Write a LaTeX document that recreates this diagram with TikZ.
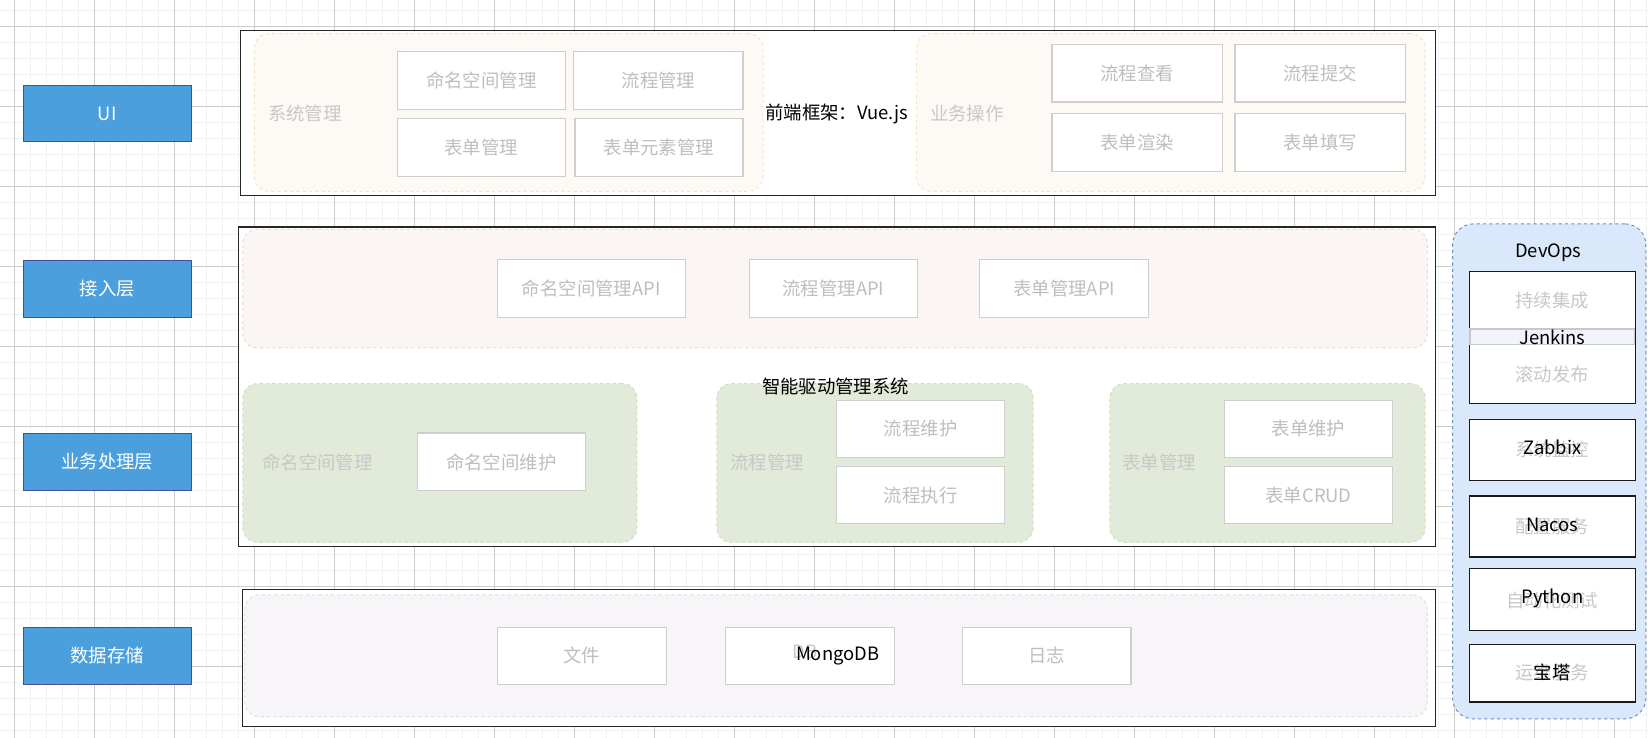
\documentclass[tikz,border=0pt]{standalone}
\usepackage{fontspec}
\setmainfont{Noto Sans CJK SC}
\begin{document}
\newcommand\bx[7]{\node[#2,minimum width={(#5)-(#3)},minimum height={(#6)-(#4)}] (#1) at ({(#3+#5)/2},{(#4+#6)/2}) {#7};}
\begin{tikzpicture}[x=1pt,y=-1pt,
  lay/.style={draw=blue!45!black!70,line width=1pt,fill={rgb,255:red,74;green,159;blue,220},text=white,inner sep=0pt,font=\fontsize{17.5}{20}\selectfont},
  frm/.style={draw=black!85,line width=1.3pt,inner sep=0pt},
  grp/.style={dashed,rounded corners=14pt,line width=0.9pt,inner sep=0pt},
  bx/.style={draw={rgb,255:red,206;green,206;blue,206},line width=1.2pt,fill=white,text={rgb,255:red,190;green,190;blue,190},inner sep=0pt,font=\fontsize{17.5}{20}\selectfont},
  dbx/.style={draw=black!90,line width=1.2pt,fill=white,inner sep=0pt},
  gl/.style={text={rgb,255:red,200;green,200;blue,200},font=\fontsize{17.5}{20}\selectfont,inner sep=0pt},
  bl/.style={text=black,font=\fontsize{17.5}{20}\selectfont,inner sep=0pt}]
\useasboundingbox[fill=white] (0,0) rectangle (1568,702);
\begin{scope}[scale=0.9514]
\foreach \i in {0,...,103} {\draw[black!5,line width=0.6pt] ({\i*16-2},0) -- ({\i*16-2},740);}
\foreach \j in {0,...,46} {\draw[black!5,line width=0.6pt] (0,{\j*16+10}) -- (1650,{\j*16+10});}
\foreach \i in {0,...,20} {\draw[black!20,line width=0.6pt] ({\i*80+14},0) -- ({\i*80+14},740);}
\foreach \j in {0,...,9} {\draw[black!20,line width=0.6pt] (0,{\j*80+26}) -- (1650,{\j*80+26});}
\end{scope}
% layer labels
\bx{ui}{lay}{22}{81}{182}{135}{UI}
\bx{jr}{lay}{22}{248}{182}{302}{接入层}
\bx{yw}{lay}{22}{412}{182}{467}{业务处理层}
\bx{sj}{lay}{22}{597}{182}{651}{数据存储}
% UI frame
\bx{uif}{frm,fill=white}{229}{29}{1366}{186}{}
\bx{g1}{grp,draw={rgb,255:red,245;green,227;blue,195},fill={rgb,255:red,253;green,250;blue,245}}{242}{32}{726}{182}{}
\node[gl] (g1l) at (290,108) {系统管理};
\bx{b1}{bx}{378}{49}{538}{104}{命名空间管理}
\bx{b2}{bx}{546}{49}{707}{104}{流程管理}
\bx{b3}{bx}{378}{113}{538}{168}{表单管理}
\bx{b4}{bx}{547}{113}{707}{168}{表单元素管理}
\bx{g2}{grp,draw={rgb,255:red,245;green,227;blue,195},fill={rgb,255:red,253;green,250;blue,245}}{872}{32}{1356}{182}{}
\node[gl] (g2l) at (920,108) {业务操作};
\bx{b5}{bx}{1001}{42}{1163}{97}{流程查看}
\bx{b6}{bx}{1175}{42}{1337}{97}{流程提交}
\bx{b7}{bx}{1001}{108}{1163}{163}{表单渲染}
\bx{b8}{bx}{1175}{108}{1337}{163}{表单填写}
\node[bl] (uit) at (796,108) {前端框架：Vue.js};
% middle frame
\bx{mf}{frm,fill=white}{227}{216}{1366}{520}{}
\bx{g3}{grp,draw={rgb,255:red,240;green,215;blue,210},fill={rgb,255:red,251;green,245;blue,243}}{231}{218}{1358}{331}{}
\bx{a1}{bx}{473}{247}{652}{302}{命名空间管理API}
\bx{a2}{bx}{713}{247}{873}{302}{流程管理API}
\bx{a3}{bx}{932}{247}{1093}{302}{表单管理API}
\bx{g4}{grp,draw={rgb,255:red,207;green,222;blue,192},fill={rgb,255:red,226;green,235;blue,217}}{231}{365}{606}{516}{}
\node[gl] (g4l) at (302,440) {命名空间管理};
\bx{c1}{bx}{397}{412}{557}{467}{命名空间维护}
\bx{g5}{grp,draw={rgb,255:red,207;green,222;blue,192},fill={rgb,255:red,226;green,235;blue,217}}{682}{365}{983}{516}{}
\node[gl] (g5l) at (730,440) {流程管理};
\bx{c2}{bx}{796}{381}{956}{435}{流程维护}
\bx{c3}{bx}{796}{444}{956}{498}{流程执行}
\bx{g6}{grp,draw={rgb,255:red,207;green,222;blue,192},fill={rgb,255:red,226;green,235;blue,217}}{1056}{365}{1356}{516}{}
\node[gl] (g6l) at (1103,440) {表单管理};
\bx{c4}{bx}{1165}{381}{1325}{435}{表单维护}
\bx{c5}{bx}{1165}{444}{1325}{498}{表单CRUD}
\node[bl] (mft) at (795,368) {智能驱动管理系统};
% bottom
\bx{bf}{frm,fill=white}{231}{561}{1366}{691}{}
\bx{g7}{grp,draw={rgb,255:red,222;green,220;blue,228},fill={rgb,255:red,247;green,245;blue,248}}{233}{566}{1358}{682}{}
\bx{d1}{bx}{473}{597}{634}{651}{文件}
\bx{d2}{bx}{690}{597}{851}{651}{}
\node[gl] (d2g) at (766,620) {DB};
\node[bl] (d2t) at (797,624) {MongoDB};
\bx{d3}{bx}{916}{597}{1076}{651}{日志}
% devops
\bx{dv}{grp,draw={rgb,255:red,108;green,142;blue,191},fill={rgb,255:red,218;green,232;blue,252},rounded corners=20pt}{1382}{213}{1566}{684}{}
\node[bl] (dvt) at (1473,240) {DevOps};
\bx{e1}{dbx}{1398}{258}{1556}{384}{}
\node[gl] (e1a) at (1477,286) {持续集成};
\bx{e1b}{draw={rgb,255:red,200;green,200;blue,200},line width=1pt,fill={rgb,255:red,240;green,244;blue,250},inner sep=0pt}{1398.6}{313}{1555.4}{328}{}
\node[bl] (e1t) at (1477,321) {Jenkins};
\node[gl] (e1c) at (1477,356) {滚动发布};
\bx{e2}{dbx}{1398}{399}{1556}{457}{}
\node[gl] (e2a) at (1477,428) {系统监控};
\node[bl] (e2t) at (1477,426) {Zabbix};
\bx{e3}{dbx}{1398}{472}{1556}{530}{}
\node[gl] (e3a) at (1477,501) {配置服务};
\node[bl] (e3t) at (1477,499) {Nacos};
\bx{e4}{dbx}{1398}{541}{1556}{600}{}
\node[gl] (e4a) at (1477,571) {自动化测试};
\node[bl] (e4t) at (1477,569) {Python};
\bx{e5}{dbx}{1398}{613}{1556}{668}{}
\node[gl] (e5a) at (1477,640) {运维服务};
\node[bl] (e5t) at (1477,640) {宝塔};
\end{tikzpicture}
\end{document}
